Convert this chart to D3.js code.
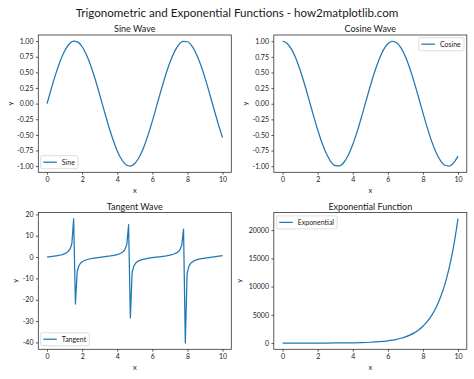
<!DOCTYPE html>
<html><head><meta charset="utf-8">
<script src="https://cdn.jsdelivr.net/npm/d3@7"></script>
<style>
body{margin:0;background:#fff}
svg{display:block}
text{font-family:Lato,"Open Sans",sans-serif;fill:#1a1a1a}
</style>
</head><body>
<svg id="chart" width="474" height="379"></svg>
<script>
const suptitle = "Trigonometric and Exponential Functions - how2matplotlib.com";
const panelTitles = ["Sine Wave", "Cosine Wave", "Tangent Wave", "Exponential Function"];
const seriesLabels = ["Sine", "Cosine", "Tangent", "Exponential"];
const xLabel = "x";
const yLabel = "y";
const xTicks = [0, 2, 4, 6, 8, 10];
const trigYTicks = [-1, -0.75, -0.5, -0.25, 0, 0.25, 0.5, 0.75, 1];
const tanYTicks = [-40, -30, -20, -10, 0, 10, 20];
const expYTicks = [0, 5000, 10000, 15000, 20000];

const trigX = [0, 0.25, 0.5, 0.75, 1, 1.25, 1.5, 1.75, 2, 2.25, 2.5, 2.75, 3, 3.25, 3.5, 3.75, 4, 4.25, 4.5, 4.75, 5,
  5.25, 5.5, 5.75, 6, 6.25, 6.5, 6.75, 7, 7.25, 7.5, 7.75, 8, 8.25, 8.5, 8.75, 9, 9.25, 9.5, 9.75, 10];
const sineY = [0, 0.2474, 0.4794, 0.6816, 0.8415, 0.9490, 0.9975, 0.9840, 0.9093, 0.7781, 0.5985, 0.3817, 0.1411,
  -0.1082, -0.3508, -0.5716, -0.7568, -0.8950, -0.9775, -0.9993, -0.9589, -0.8589, -0.7055, -0.5083, -0.2794,
  -0.0332, 0.2151, 0.4500, 0.6570, 0.8231, 0.9380, 0.9946, 0.9894, 0.9228, 0.7985, 0.6247, 0.4121, 0.1739,
  -0.0752, -0.3195, -0.5440];
const cosineY = [1, 0.9689, 0.8776, 0.7317, 0.5403, 0.3153, 0.0707, -0.1782, -0.4161, -0.6282, -0.8011, -0.9243,
  -0.9900, -0.9941, -0.9365, -0.8206, -0.6536, -0.4461, -0.2108, 0.0376, 0.2837, 0.5122, 0.7087, 0.8612, 0.9602,
  0.9994, 0.9766, 0.8930, 0.7539, 0.5679, 0.3466, 0.1037, -0.1455, -0.3853, -0.6020, -0.7809, -0.9111, -0.9848,
  -0.9972, -0.9476, -0.8391];

const tanX = [0, 0.101, 0.202, 0.303, 0.404, 0.505, 0.606, 0.707, 0.808, 0.909, 1.010, 1.111, 1.212, 1.313, 1.414,
  1.515, 1.616, 1.717, 1.818, 1.919, 2.020, 2.2, 2.4, 2.6, 2.8, 3.0, 3.2, 3.4, 3.6, 3.8, 4.0, 4.2, 4.3, 4.4, 4.444,
  4.545, 4.646, 4.747, 4.848, 4.949, 5.051, 5.2, 5.4, 5.6, 5.8, 6.0, 6.2, 6.4, 6.6, 6.8, 7.0, 7.2, 7.4, 7.5, 7.576,
  7.677, 7.778, 7.879, 7.980, 8.081, 8.182, 8.4, 8.6, 8.8, 9.0, 9.2, 9.4, 9.6, 9.8, 10];
const tanY = [0, 0.101, 0.205, 0.313, 0.428, 0.553, 0.695, 0.855, 1.042, 1.284, 1.592, 2.020, 2.667, 3.795, 6.331,
  17.951, -22.031, -6.783, -3.960, -2.753, -2.073, -1.374, -0.916, -0.602, -0.356, -0.143, 0.058, 0.264, 0.494,
  0.773, 1.158, 1.778, 2.286, 3.096, 3.642, 5.934, 15.146, -28.495, -7.302, -4.138, -2.844, -1.885, -1.218, -0.814,
  -0.525, -0.291, -0.083, 0.117, 0.328, 0.568, 0.871, 1.305, 2.048, 2.706, 3.501, 5.584, 13.098, -40.298, -7.906,
  -4.333, -2.940, -1.646, -1.082, -0.721, -0.452, -0.229, -0.025, 0.177, 0.394, 0.648];

const expX = [0, 0.5, 1, 1.5, 2, 2.5, 3, 3.5, 4, 4.5, 5, 5.5, 6, 6.25, 6.5, 6.75, 7, 7.25, 7.5, 7.75, 8, 8.25, 8.5,
  8.75, 9, 9.25, 9.5, 9.75, 10];
const expY = [1, 1.649, 2.718, 4.482, 7.389, 12.18, 20.09, 33.12, 54.60, 90.02, 148.4, 244.7, 403.4, 518.0, 665.1,
  854.1, 1096.6, 1408.1, 1808.0, 2321.6, 2981.0, 3827.6, 4914.8, 6310.7, 8103.1, 10404.6, 13359.7, 17154.2, 22026.5];

const svg = d3.select("#chart");
const W = 474, H = 379;
const color = "#1f77b4";
const spine = "#333";
const tickFS = 7, titleFS = 9, supFS = 11.6, labelFS = 7.6;

svg.append("rect").attr("width", W).attr("height", H).attr("fill", "#fff");

svg.append("text").attr("x", 237).attr("y", 16.6).attr("text-anchor", "middle")
  .attr("font-size", supFS).text(suptitle);

const colX = [[38.3, 231.3], [273.8, 466.8]];
const rowY = [[35, 172.3], [212.5, 349.3]];

const fmt2 = v => d3.format(".2f")(v).replace("\u2212", "-");
const fmt0 = v => d3.format("d")(v).replace("\u2212", "-");

const panels = [
  {c: 0, r: 0, xs: trigX, ys: sineY, ticks: trigYTicks, fmt: fmt2, leg: "ll", curve: d3.curveMonotoneX, ylOff: 25.6},
  {c: 1, r: 0, xs: trigX, ys: cosineY, ticks: trigYTicks, fmt: fmt2, leg: "ur", curve: d3.curveMonotoneX, ylOff: 26.2},
  {c: 0, r: 1, xs: tanX, ys: tanY, ticks: tanYTicks, fmt: fmt0, leg: "ll", curve: d3.curveLinear, ylOff: 20.2},
  {c: 1, r: 1, xs: expX, ys: expY, ticks: expYTicks, fmt: fmt0, leg: "ul", curve: d3.curveMonotoneX, ylOff: 31.5}
];

panels.forEach((p, i) => {
  const [x0, x1] = colX[p.c], [y0, y1] = rowY[p.r];
  const xe = d3.extent(p.xs), ye = d3.extent(p.ys);
  const xm = (xe[1] - xe[0]) * 0.05, ym = (ye[1] - ye[0]) * 0.05;
  const x = d3.scaleLinear().domain([xe[0] - xm, xe[1] + xm]).range([x0, x1]);
  const y = d3.scaleLinear().domain([ye[0] - ym, ye[1] + ym]).range([y1, y0]);
  const g = svg.append("g");
  const data = p.xs.map((v, k) => [v, p.ys[k]]);

  const clipId = "clip" + i;
  svg.append("clipPath").attr("id", clipId).append("rect")
    .attr("x", x0).attr("y", y0).attr("width", x1 - x0).attr("height", y1 - y0);

  g.append("path").datum(data).attr("clip-path", `url(#${clipId})`)
    .attr("d", d3.line().x(d => x(d[0])).y(d => y(d[1])).curve(p.curve))
    .attr("fill", "none").attr("stroke", color).attr("stroke-width", 1.25)
    .attr("stroke-linejoin", "round");

  const xa = g.append("g").attr("transform", `translate(0,${y1})`)
    .call(d3.axisBottom(x).tickValues(xTicks).tickSize(2.4).tickPadding(2.4).tickFormat(fmt0));
  xa.select(".domain").remove();
  xa.selectAll("line").attr("stroke", spine).attr("stroke-width", 0.8);
  xa.selectAll("text").attr("font-size", tickFS).attr("font-family", "Lato, 'Open Sans', sans-serif").attr("fill", "#1a1a1a");

  const ya = g.append("g").attr("transform", `translate(${x0},0)`)
    .call(d3.axisLeft(y).tickValues(p.ticks).tickSize(2.4).tickPadding(2.4).tickFormat(p.fmt));
  ya.select(".domain").remove();
  ya.selectAll("line").attr("stroke", spine).attr("stroke-width", 0.8);
  ya.selectAll("text").attr("font-size", tickFS).attr("font-family", "Lato, 'Open Sans', sans-serif").attr("fill", "#1a1a1a");

  g.append("rect").attr("x", x0).attr("y", y0).attr("width", x1 - x0).attr("height", y1 - y0)
    .attr("fill", "none").attr("stroke", spine).attr("stroke-width", 0.8);

  g.append("text").attr("x", (x0 + x1) / 2).attr("y", y0 - 2.8).attr("text-anchor", "middle")
    .attr("font-size", titleFS).text(panelTitles[i]);
  g.append("text").attr("x", (x0 + x1) / 2).attr("y", y1 + 20.6).attr("text-anchor", "middle")
    .attr("font-size", labelFS).text(xLabel);
  g.append("text").attr("x", 0).attr("y", 0).attr("text-anchor", "middle")
    .attr("font-size", labelFS).text(yLabel)
    .attr("transform", `translate(${x0 - p.ylOff},${(y0 + y1) / 2}) rotate(-90)`);

  const lg = g.append("g");
  const lt = lg.append("text").attr("font-size", tickFS).text(seriesLabels[i]);
  const tw = lt.node().getComputedTextLength();
  const bw = 2.6 + 13.5 + 5 + tw + 3.2, bh = 13;
  let bx, by;
  if (p.leg === "ll") { bx = x0 + 2.4; by = y1 - 3.6 - bh; }
  else if (p.leg === "ur") { bx = x1 - 2.8 - bw; by = y0 + 2.7; }
  else { bx = x0 + 2.8; by = y0 + 3.4; }
  lg.insert("rect", "text").attr("x", bx).attr("y", by).attr("width", bw).attr("height", bh)
    .attr("rx", 1.5).attr("fill", "#fff").attr("fill-opacity", 0.8)
    .attr("stroke", "#d0d0d0").attr("stroke-width", 0.7);
  lg.append("line").attr("x1", bx + 2.6).attr("x2", bx + 2.6 + 13.5)
    .attr("y1", by + bh / 2).attr("y2", by + bh / 2)
    .attr("stroke", color).attr("stroke-width", 1.25);
  lt.attr("x", bx + 2.6 + 13.5 + 5).attr("y", by + bh / 2 + 2.5);
});
</script>
</body></html>
